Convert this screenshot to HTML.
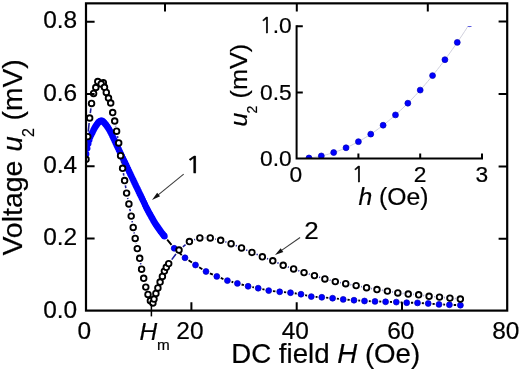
<!DOCTYPE html><html><head><meta charset="utf-8"><style>html,body{margin:0;padding:0;background:#fff;}svg{display:block;}text{font-family:"Liberation Sans",Arial,sans-serif;fill:#000;stroke:#000;stroke-width:0.2px;}.b{fill:#0000ff;stroke:#0000b8;stroke-width:0.7px}.d{fill:#0000ff}.c{fill:#fff;stroke:#000;stroke-width:1.85px}</style></head><body>
<svg width="520" height="372" viewBox="0 0 520 372">
<rect width="520" height="372" fill="#fff"/>
<defs><clipPath id="cm"><rect x="86.0" y="3.35" width="421.2" height="307.25"/></clipPath><clipPath id="ci"><rect x="296.6" y="26.2" width="185.4" height="132.4"/></clipPath></defs>
<g clip-path="url(#cm)">
<path d="M167.19,239.56L171.51,244.94M177.43,251.14L181.77,254.96M188.55,260.23L191.95,262.57M199.16,267.26L202.34,269.24M209.92,273.28L212.88,274.62M220.8,277.98L223.4,279.02M231.54,281.76L233.26,282.24M241.55,284.52L243.95,285.18M252.33,287.09L253.97,287.41M262.39,289.16L264.51,289.64M272.97,291.07L275.43,291.33M283.99,292.16L286.21,292.34M294.76,293.31L296.74,293.59M305.19,295.18L307.11,295.62M315.59,296.89L317.51,297.01M326.09,297.66L328.31,297.84M336.87,298.68L338.93,298.92M347.49,299.72L349.71,299.88M358.29,300.53L360.21,300.67M368.8,301.16L370.7,301.24M379.3,301.56L381.3,301.64M389.9,301.92L392,301.98M400.59,302.35L402.41,302.45M411,302.78L413.2,302.82M421.79,303.14L423.91,303.26M432.49,303.86L434.71,304.04M443.3,304.57L445.1,304.63M453.7,304.96L456.1,305.04" fill="none" stroke="#000" stroke-width="1.9"/>
<circle class="d" cx="86.2" cy="154" r="3.2"/>
<circle class="d" cx="87.25" cy="148.25" r="3.2"/>
<circle class="d" cx="88.3" cy="143.6" r="3.2"/>
<circle class="d" cx="89.35" cy="139.75" r="3.2"/>
<circle class="d" cx="90.4" cy="136.6" r="3.2"/>
<circle class="d" cx="91.45" cy="134.16" r="3.2"/>
<circle class="d" cx="92.5" cy="132.2" r="3.2"/>
<circle class="d" cx="93.55" cy="130.05" r="3.2"/>
<circle class="d" cx="94.6" cy="127.95" r="3.2"/>
<circle class="d" cx="95.65" cy="126.32" r="3.2"/>
<circle class="d" cx="96.7" cy="124.73" r="3.2"/>
<circle class="d" cx="97.75" cy="123.31" r="3.2"/>
<circle class="d" cx="98.8" cy="122.05" r="3.2"/>
<circle class="d" cx="99.85" cy="121.19" r="3.2"/>
<circle class="d" cx="100.9" cy="120.71" r="3.2"/>
<circle class="d" cx="101.95" cy="120.8" r="3.2"/>
<circle class="d" cx="103" cy="121.4" r="3.2"/>
<circle class="d" cx="104.05" cy="122.45" r="3.2"/>
<circle class="d" cx="105.1" cy="123.65" r="3.2"/>
<circle class="d" cx="106.15" cy="125.01" r="3.2"/>
<circle class="d" cx="107.2" cy="126.44" r="3.2"/>
<circle class="d" cx="108.25" cy="127.91" r="3.2"/>
<circle class="d" cx="109.3" cy="129.7" r="3.2"/>
<circle class="d" cx="110.35" cy="131.65" r="3.2"/>
<circle class="d" cx="111.4" cy="133.74" r="3.2"/>
<circle class="d" cx="112.45" cy="135.9" r="3.2"/>
<circle class="d" cx="113.5" cy="138.22" r="3.2"/>
<circle class="d" cx="114.55" cy="140.53" r="3.2"/>
<circle class="d" cx="115.6" cy="142.74" r="3.2"/>
<circle class="d" cx="116.65" cy="144.97" r="3.2"/>
<circle class="d" cx="117.7" cy="147.24" r="3.2"/>
<circle class="d" cx="118.75" cy="149.47" r="3.2"/>
<circle class="d" cx="119.8" cy="151.68" r="3.2"/>
<circle class="d" cx="120.85" cy="153.89" r="3.2"/>
<circle class="d" cx="121.9" cy="156.1" r="3.2"/>
<circle class="d" cx="122.95" cy="158.34" r="3.2"/>
<circle class="d" cx="124" cy="160.58" r="3.2"/>
<circle class="d" cx="125.05" cy="162.81" r="3.2"/>
<circle class="d" cx="126.1" cy="165.04" r="3.2"/>
<circle class="d" cx="127.15" cy="167.25" r="3.2"/>
<circle class="d" cx="128.2" cy="169.46" r="3.2"/>
<circle class="d" cx="129.25" cy="171.66" r="3.2"/>
<circle class="d" cx="130.3" cy="173.89" r="3.2"/>
<circle class="d" cx="131.35" cy="176.11" r="3.2"/>
<circle class="d" cx="132.4" cy="178.34" r="3.2"/>
<circle class="d" cx="133.45" cy="180.57" r="3.2"/>
<circle class="d" cx="134.5" cy="182.76" r="3.2"/>
<circle class="d" cx="135.55" cy="184.94" r="3.2"/>
<circle class="d" cx="136.6" cy="187.12" r="3.2"/>
<circle class="d" cx="137.65" cy="189.3" r="3.2"/>
<circle class="d" cx="138.7" cy="191.48" r="3.2"/>
<circle class="d" cx="139.75" cy="193.65" r="3.2"/>
<circle class="d" cx="140.8" cy="195.82" r="3.2"/>
<circle class="d" cx="141.85" cy="197.96" r="3.2"/>
<circle class="d" cx="142.9" cy="200.1" r="3.2"/>
<circle class="d" cx="143.95" cy="202.37" r="3.2"/>
<circle class="d" cx="145" cy="204.64" r="3.2"/>
<circle class="d" cx="146.05" cy="206.91" r="3.2"/>
<circle class="d" cx="147.1" cy="209.02" r="3.2"/>
<circle class="d" cx="148.15" cy="210.95" r="3.2"/>
<circle class="d" cx="149.2" cy="212.88" r="3.2"/>
<circle class="d" cx="150.25" cy="214.81" r="3.2"/>
<circle class="d" cx="151.3" cy="216.71" r="3.2"/>
<circle class="d" cx="152.35" cy="218.57" r="3.2"/>
<circle class="d" cx="153.4" cy="220.44" r="3.2"/>
<circle class="d" cx="154.45" cy="222.3" r="3.2"/>
<circle class="d" cx="155.5" cy="223.97" r="3.2"/>
<circle class="d" cx="156.55" cy="225.5" r="3.2"/>
<circle class="d" cx="157.6" cy="227.03" r="3.2"/>
<circle class="d" cx="158.65" cy="228.55" r="3.2"/>
<circle class="d" cx="159.7" cy="230.04" r="3.2"/>
<circle class="d" cx="160.75" cy="231.45" r="3.2"/>
<circle class="d" cx="161.8" cy="232.87" r="3.2"/>
<circle class="d" cx="162.85" cy="234.17" r="3.2"/>
<circle class="d" cx="163.9" cy="235.46" r="3.2"/>
<circle class="d" cx="164.5" cy="236.2" r="3.2"/>
<circle class="b" cx="174.2" cy="248.3" r="2.95"/>
<circle class="b" cx="185" cy="257.8" r="2.95"/>
<circle class="b" cx="195.5" cy="265" r="2.95"/>
<circle class="b" cx="206" cy="271.5" r="2.95"/>
<circle class="b" cx="216.8" cy="276.4" r="2.95"/>
<circle class="b" cx="227.4" cy="280.6" r="2.95"/>
<circle class="b" cx="237.4" cy="283.4" r="2.95"/>
<circle class="b" cx="248.1" cy="286.3" r="2.95"/>
<circle class="b" cx="258.2" cy="288.2" r="2.95"/>
<circle class="b" cx="268.7" cy="290.6" r="2.95"/>
<circle class="b" cx="279.7" cy="291.8" r="2.95"/>
<circle class="b" cx="290.5" cy="292.7" r="2.95"/>
<circle class="b" cx="301" cy="294.2" r="2.95"/>
<circle class="b" cx="311.3" cy="296.6" r="2.95"/>
<circle class="b" cx="321.8" cy="297.3" r="2.95"/>
<circle class="b" cx="332.6" cy="298.2" r="2.95"/>
<circle class="b" cx="343.2" cy="299.4" r="2.95"/>
<circle class="b" cx="354" cy="300.2" r="2.95"/>
<circle class="b" cx="364.5" cy="301" r="2.95"/>
<circle class="b" cx="375" cy="301.4" r="2.95"/>
<circle class="b" cx="385.6" cy="301.8" r="2.95"/>
<circle class="b" cx="396.3" cy="302.1" r="2.95"/>
<circle class="b" cx="406.7" cy="302.7" r="2.95"/>
<circle class="b" cx="417.5" cy="302.9" r="2.95"/>
<circle class="b" cx="428.2" cy="303.5" r="2.95"/>
<circle class="b" cx="439" cy="304.4" r="2.95"/>
<circle class="b" cx="449.4" cy="304.8" r="2.95"/>
<circle class="b" cx="460.4" cy="305.2" r="2.95"/>
<path d="M86.38,154.31L87.37,141.59M88.26,131.63L89.14,122.97M90.3,113.04L90.9,108.36M115.62,125.92L115.68,126.28M117.48,136.12L117.82,137.98M119.43,147.85L119.87,150.75M121.38,160.64L121.82,163.36M123.41,173.23L123.79,175.57M125.38,185.44L125.82,188.16M127.64,197.99L127.86,199.01M129.83,208.81L130.27,211.19M132.07,221.02L132.33,222.48M134.09,232.32L134.31,233.48M136.21,243.3L136.29,243.7M140.56,263.23L140.74,264.27M171.72,259.61L175.98,253.99M182.87,246.84L185.55,244.66M194.15,239.87L195.11,239.53M204.84,237.9L205.26,237.9M215.13,239.02L215.81,239.18M225.43,241.85L226.35,242.15M235.74,245.57L236.88,246.03M246.11,249.88L247.35,250.42M256.55,254.35L257.75,254.85M267.03,258.59L268.11,259.01M277.37,262.78L278.61,263.32M287.93,266.93L288.89,267.27M298.33,270.57L299.33,270.93M308.84,273.98L309.66,274.22M319.23,277.11L320.11,277.39M329.72,280.15L330.46,280.35M340.2,282.59L340.82,282.71M350.64,284.6L351.22,284.7M361.04,286.59L361.66,286.71M371.49,288.55L372.05,288.65M381.92,290.26L382.46,290.34M392.33,291.95L392.89,292.05M402.79,293.42L403.27,293.48M413.23,294.38L413.67,294.42M423.61,295.51L424.13,295.59M434.07,296.68L434.51,296.72M444.48,297.58L444.94,297.62M454.9,298.53L455.36,298.57" fill="none" stroke="#1c1c9c" stroke-width="1.6"/>
<circle class="c" cx="86" cy="159.3" r="2.8"/>
<circle class="c" cx="87.75" cy="136.6" r="2.8"/>
<circle class="c" cx="89.65" cy="118" r="2.8"/>
<circle class="c" cx="91.55" cy="103.4" r="2.8"/>
<circle class="c" cx="93.6" cy="93.4" r="2.8"/>
<circle class="c" cx="95.8" cy="87.5" r="2.8"/>
<circle class="c" cx="97.8" cy="81.6" r="2.8"/>
<circle class="c" cx="103.3" cy="82.8" r="2.8"/>
<circle class="c" cx="101.2" cy="83.9" r="2.8"/>
<circle class="c" cx="104.5" cy="87.3" r="2.8"/>
<circle class="c" cx="106.3" cy="92.4" r="2.8"/>
<circle class="c" cx="108.5" cy="98" r="2.8"/>
<circle class="c" cx="110.7" cy="103" r="2.8"/>
<circle class="c" cx="112.7" cy="112.6" r="2.8"/>
<circle class="c" cx="114.7" cy="121" r="2.8"/>
<circle class="c" cx="116.6" cy="131.2" r="2.8"/>
<circle class="c" cx="118.7" cy="142.9" r="2.8"/>
<circle class="c" cx="120.6" cy="155.7" r="2.8"/>
<circle class="c" cx="122.6" cy="168.3" r="2.8"/>
<circle class="c" cx="124.6" cy="180.5" r="2.8"/>
<circle class="c" cx="126.6" cy="193.1" r="2.8"/>
<circle class="c" cx="128.9" cy="203.9" r="2.8"/>
<circle class="c" cx="131.2" cy="216.1" r="2.8"/>
<circle class="c" cx="133.2" cy="227.4" r="2.8"/>
<circle class="c" cx="135.2" cy="238.4" r="2.8"/>
<circle class="c" cx="137.3" cy="248.6" r="2.8"/>
<circle class="c" cx="139.7" cy="258.3" r="2.8"/>
<circle class="c" cx="141.6" cy="269.2" r="2.8"/>
<circle class="c" cx="143.7" cy="278.3" r="2.8"/>
<circle class="c" cx="145.8" cy="287.1" r="2.8"/>
<circle class="c" cx="148" cy="294.4" r="2.8"/>
<circle class="c" cx="150.4" cy="300.7" r="2.8"/>
<circle class="c" cx="152.9" cy="302.9" r="2.8"/>
<circle class="c" cx="154" cy="299" r="2.8"/>
<circle class="c" cx="155.9" cy="293.4" r="2.8"/>
<circle class="c" cx="157.9" cy="287.9" r="2.8"/>
<circle class="c" cx="160.1" cy="282" r="2.8"/>
<circle class="c" cx="162.4" cy="276.4" r="2.8"/>
<circle class="c" cx="164.4" cy="271.1" r="2.8"/>
<circle class="c" cx="166.3" cy="267.3" r="2.8"/>
<circle class="c" cx="168.7" cy="263.6" r="2.8"/>
<circle class="c" cx="179" cy="250" r="2.8"/>
<circle class="c" cx="189.42" cy="241.5" r="2.8"/>
<circle class="c" cx="199.84" cy="237.9" r="2.8"/>
<circle class="c" cx="210.26" cy="237.9" r="2.8"/>
<circle class="c" cx="220.68" cy="240.3" r="2.8"/>
<circle class="c" cx="231.1" cy="243.7" r="2.8"/>
<circle class="c" cx="241.52" cy="247.9" r="2.8"/>
<circle class="c" cx="251.94" cy="252.4" r="2.8"/>
<circle class="c" cx="262.36" cy="256.8" r="2.8"/>
<circle class="c" cx="272.78" cy="260.8" r="2.8"/>
<circle class="c" cx="283.2" cy="265.3" r="2.8"/>
<circle class="c" cx="293.62" cy="268.9" r="2.8"/>
<circle class="c" cx="304.04" cy="272.6" r="2.8"/>
<circle class="c" cx="314.46" cy="275.6" r="2.8"/>
<circle class="c" cx="324.88" cy="278.9" r="2.8"/>
<circle class="c" cx="335.3" cy="281.6" r="2.8"/>
<circle class="c" cx="345.72" cy="283.7" r="2.8"/>
<circle class="c" cx="356.14" cy="285.6" r="2.8"/>
<circle class="c" cx="366.56" cy="287.7" r="2.8"/>
<circle class="c" cx="376.98" cy="289.5" r="2.8"/>
<circle class="c" cx="387.4" cy="291.1" r="2.8"/>
<circle class="c" cx="397.82" cy="292.9" r="2.8"/>
<circle class="c" cx="408.24" cy="294" r="2.8"/>
<circle class="c" cx="418.66" cy="294.8" r="2.8"/>
<circle class="c" cx="429.08" cy="296.3" r="2.8"/>
<circle class="c" cx="439.5" cy="297.1" r="2.8"/>
<circle class="c" cx="449.92" cy="298.1" r="2.8"/>
<circle class="c" cx="460.34" cy="299" r="2.8"/>
</g>
<g stroke="#000" fill="none" stroke-linecap="butt">
<rect x="86.0" y="3.35" width="421.2" height="307.25" stroke-width="2.2"/>
<path d="M191.4,310.6V302.3 M296.7,310.6V302.3 M402.0,310.6V302.3 M165.0,3.35V11.6 M296.8,3.35V11.6 M427.8,3.35V11.6 M86.0,21.8H94.6 M86.0,94.0H94.6 M86.0,166.2H94.6 M86.0,238.4H94.6 M507.2,21.6H498.6 M507.2,94.0H498.6 M507.2,166.4H498.6 M507.2,238.8H498.6" stroke-width="2"/>
<path d="M151.4,304V316.4" stroke-width="1.5"/>
</g>
<g clip-path="url(#ci)">
<polyline points="296.6,158.6 299.07,158.57 301.54,158.5 304.02,158.36 306.49,158.18 308.96,157.94 311.43,157.64 313.9,157.3 316.38,156.89 318.85,156.44 321.32,155.93 323.79,155.36 326.26,154.74 328.74,154.06 331.21,153.33 333.68,152.55 336.15,151.7 338.62,150.81 341.1,149.86 343.57,148.85 346.04,147.79 348.51,146.67 350.98,145.5 353.46,144.27 355.93,142.99 358.4,141.65 360.87,140.26 363.34,138.81 365.82,137.31 368.29,135.75 370.76,134.13 373.23,132.46 375.7,130.73 378.18,128.95 380.65,127.11 383.12,125.22 385.59,123.27 388.06,121.26 390.54,119.2 393.01,117.08 395.48,114.91 397.95,112.68 400.42,110.39 402.9,108.05 405.37,105.66 407.84,103.2 410.31,100.7 412.78,98.13 415.26,95.51 417.73,92.84 420.2,90.1 422.67,87.31 425.14,84.47 427.62,81.57 430.09,78.61 432.56,75.6 435.03,72.53 437.5,69.41 439.98,66.22 442.45,62.99 444.92,59.69 447.39,56.34 449.86,52.94 452.34,49.48 454.81,45.96 457.28,42.38 459.75,38.75 462.22,35.07 464.7,31.32 467.17,27.52 469.64,23.67 472.11,19.75 474.58,15.79 477.06,11.76 479.53,7.68" fill="none" stroke="#d0d0dc" stroke-width="1"/>
<circle class="b" cx="308.96" cy="157.94" r="2.95"/>
<circle class="b" cx="321.32" cy="155.93" r="2.95"/>
<circle class="b" cx="333.68" cy="152.55" r="2.95"/>
<circle class="b" cx="346.04" cy="147.79" r="2.95"/>
<circle class="b" cx="358.4" cy="141.65" r="2.95"/>
<circle class="b" cx="370.76" cy="134.13" r="2.95"/>
<circle class="b" cx="383.12" cy="125.22" r="2.95"/>
<circle class="b" cx="395.48" cy="114.91" r="2.95"/>
<circle class="b" cx="407.84" cy="103.2" r="2.95"/>
<circle class="b" cx="420.2" cy="90.1" r="2.95"/>
<circle class="b" cx="432.56" cy="75.6" r="2.95"/>
<circle class="b" cx="444.92" cy="59.69" r="2.95"/>
<circle class="b" cx="457.28" cy="42.38" r="2.95"/>
<circle class="b" cx="469.64" cy="23.67" r="2.95"/>
</g>
<g stroke="#000" fill="none">
<path d="M296.6,25.2V158.6H483" stroke-width="2"/>
<path d="M296.6,92.4H302.8 M296.6,26.2H302.8 M358.4,158.6V153.4 M420.2,158.6V153.4 M482,158.6V153.4" stroke-width="2"/>
</g>
<path d="M183.7,174.2L158.21,194.86" stroke="#3a3a3a" stroke-width="1.05" fill="none"/>
<path d="M152,199.9L160.05,196.33L157.15,192.76Z" fill="#111"/>
<path d="M300.1,237.5L281.57,250.34" stroke="#3a3a3a" stroke-width="1.05" fill="none"/>
<path d="M275,254.9L283.3,251.95L280.68,248.17Z" fill="#111"/>
<text transform="translate(77.2,28.19) scale(1.02,1)" font-size="24" text-anchor="end">0.8</text>
<text transform="translate(77.2,100.59) scale(1.02,1)" font-size="24" text-anchor="end">0.6</text>
<text transform="translate(77.2,172.99) scale(1.02,1)" font-size="24" text-anchor="end">0.4</text>
<text transform="translate(77.2,245.39) scale(1.02,1)" font-size="24" text-anchor="end">0.2</text>
<text transform="translate(77.2,317.79) scale(1.02,1)" font-size="24" text-anchor="end">0.0</text>
<text transform="translate(84.2,339) scale(1.02,1)" font-size="24" text-anchor="middle">0</text>
<text transform="translate(189.9,339) scale(1.02,1)" font-size="24" text-anchor="middle">20</text>
<text transform="translate(295.3,339) scale(1.02,1)" font-size="24" text-anchor="middle">40</text>
<text transform="translate(400.8,339) scale(1.02,1)" font-size="24" text-anchor="middle">60</text>
<text transform="translate(505.8,339) scale(1.02,1)" font-size="24" text-anchor="middle">80</text>
<text transform="translate(139.4,339.6) scale(1.02,1)" font-size="24"><tspan font-style="italic">H</tspan><tspan font-size="15" dy="9.9" dx="0">m</tspan></text>
<text transform="translate(231.2,363) scale(1.01,1)" font-size="27.4">DC field <tspan font-style="italic">H</tspan> (Oe)</text>
<text transform="translate(22.3,255.6) rotate(-90) scale(1.04,1)" font-size="27.4">Voltage</text>
<text transform="translate(22.3,151.6) rotate(-90) scale(1.0,1)" font-size="27.4" font-style="italic">u</text>
<text transform="translate(33.7,137) rotate(-90) scale(1.0,1)" font-size="16">2</text>
<text transform="translate(22.3,120.4) rotate(-90) scale(1.027,1)" font-size="27.4">(mV)</text>
<text transform="translate(193.9,172.5) scale(1.18,1)" font-size="24" text-anchor="middle"><tspan font-family="NanumGothic" font-size="23.5" stroke="#000" stroke-width="0.55">1</tspan></text>
<text transform="translate(311.5,239.2) scale(1.06,1)" font-size="24.5" text-anchor="middle">2</text>
<text transform="translate(291.8,99.56)" font-size="22.8" text-anchor="end">0.5</text>
<text transform="translate(291.8,165.66)" font-size="22.8" text-anchor="end">0.0</text>
<text transform="translate(291.8,32.86)" font-size="22.8" text-anchor="end"><tspan font-family="NanumGothic" font-size="21.5" stroke="#000" stroke-width="0.45">1</tspan>.0</text>
<text transform="translate(295.8,181.5)" font-size="22.8" text-anchor="middle">0</text>
<text transform="translate(420,181.5)" font-size="22.8" text-anchor="middle">2</text>
<text transform="translate(481.8,181.5)" font-size="22.8" text-anchor="middle">3</text>
<text transform="translate(358.2,181.5)" font-size="22.8" text-anchor="middle"><tspan font-family="NanumGothic" font-size="21.5" stroke="#000" stroke-width="0.45">1</tspan></text>
<text transform="translate(358.4,205) scale(1.01,1)" font-size="24.5"><tspan font-style="italic">h</tspan> (Oe)</text>
<text transform="translate(246.8,126.6) rotate(-90) scale(1.0,1)" font-size="24.5"><tspan font-style="italic">u</tspan></text>
<text transform="translate(257,113.4) rotate(-90) scale(1.0,1)" font-size="14">2</text>
<text transform="translate(246.8,98.4) rotate(-90) scale(1.03,1)" font-size="24.5">(mV)</text>
</svg></body></html>
